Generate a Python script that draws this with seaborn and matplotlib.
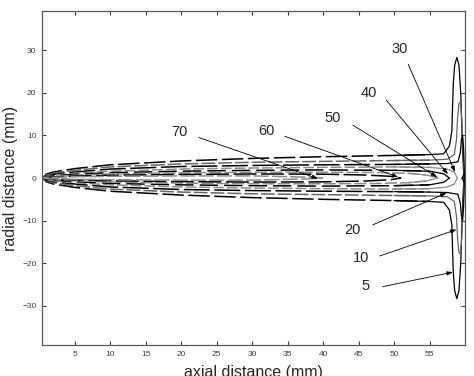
import numpy as np
import seaborn as sns
import matplotlib.pyplot as plt

# contour levels (labels) and upper-half paths (mm)
x_tip = [0.5, 1, 2, 5, 10, 20, 30, 40, 50]

lvl5_x = x_tip + [55, 57, 57.8, 58.15, 58.25, 58.35, 58.55, 58.85, 59.15, 59.4, 59.55, 59.7, 59.85]
lvl5_y = [0, 0.9, 1.4, 2.2, 3.1, 4.0, 4.6, 5.0, 5.3, 5.5, 5.7, 7.5, 11, 17, 22, 26.5, 28.3, 26.5, 20, 12, 5, 0]

lvl10_x = x_tip + [55, 57.5, 58.5, 58.8, 58.95, 59.15, 59.35, 59.55, 59.7, 59.8, 59.88]
lvl10_y = [0, 0.7, 1.1, 1.8, 2.6, 3.3, 3.7, 3.9, 4.1, 4.2, 4.4, 5.5, 9, 14, 17.5, 17.8, 14, 8, 4, 0]

lvl20_x = x_tip + [55, 57.5, 59.0, 59.35, 59.5, 59.65, 59.8, 59.88, 59.93]
lvl20_y = [0, 0.5, 0.85, 1.4, 2.1, 2.7, 2.95, 3.1, 3.2, 3.3, 3.4, 3.8, 6, 9, 10, 7, 3, 0]

lvl30_x = x_tip + [55, 57.5, 58.5, 58.9]
lvl30_y = [0, 0.4, 0.65, 1.1, 1.6, 2.1, 2.35, 2.5, 2.6, 2.5, 2.1, 1.4, 0]

lvl40_x = x_tip + [55, 57.0, 57.8]
lvl40_y = [0, 0.3, 0.5, 0.85, 1.25, 1.6, 1.8, 1.9, 1.8, 1.6, 1.0, 0]

lvl50_x = x_tip[:-1] + [47, 52, 54.5, 56.2]
lvl50_y = [0, 0.22, 0.38, 0.65, 0.95, 1.2, 1.35, 1.35, 1.3, 1.1, 0.7, 0]

lvl60_x = x_tip[:-1] + [46, 49.5, 51]
lvl60_y = [0, 0.15, 0.25, 0.45, 0.65, 0.85, 0.95, 0.9, 0.7, 0.4, 0]

lvl70_x = x_tip[:-2] + [34, 38, 40]
lvl70_y = [0, 0.1, 0.15, 0.3, 0.4, 0.5, 0.5, 0.35, 0.2, 0]

# small closed contour at the transducer face
edge_x = [59.6, 59.75, 59.9, 60.0]
edge_y = [0, 0.6, 1.0, 1.2]

paths = [(lvl5_x, lvl5_y, 'k'), (lvl10_x, lvl10_y, '0.4'), (lvl20_x, lvl20_y, 'k'),
         (lvl30_x, lvl30_y, '0.55'), (lvl40_x, lvl40_y, 'k'), (lvl50_x, lvl50_y, '0.55'),
         (lvl60_x, lvl60_y, 'k'), (lvl70_x, lvl70_y, '0.55'), (edge_x, edge_y, 'k')]

# staggered dash patterns so the aliased look of the original is kept
dash_styles = [(0, (14, 3)), (5, (9, 2)), (2, (17, 3)), (9, (7, 2)), (4, (12, 4)),
               (11, (8, 2)), (1, (15, 3)), (6, (10, 2)), (0, (10, 2))]

# labels: text position, arrow tail and arrow tip
labels = ['70', '60', '50', '40', '30', '20', '10', '5']
text_x = [19.8, 32.0, 41.4, 46.4, 50.8, 44.2, 45.4, 46.0]
text_y = [10.7, 11.0, 14.1, 20.0, 30.2, -12.3, -18.7, -25.4]
tail_x = [22.5, 34.6, 44.2, 48.9, 52.0, 47.0, 48.0, 48.4]
tail_y = [9.5, 9.8, 12.4, 18.3, 26.7, -11.0, -18.3, -25.5]
head_x = [39.3, 50.6, 56.1, 57.6, 58.6, 57.4, 58.8, 58.3]
head_y = [-0.15, 0.2, 0.2, 0.9, 1.4, -3.5, -12.1, -22.1]

SPLIT = 53  # tube part drawn dashed (as it renders in the original), tips/lobes solid

sns.set_style('ticks')
plt.rcParams['font.family'] = ['Liberation Sans', 'DejaVu Sans']

fig = plt.figure(figsize=(4.74, 3.76), dpi=100)
ax = fig.add_axes([0.0886, 0.0824, 0.8924, 0.8883])

for (px, py, col), ls in zip(paths, dash_styles):
    px = np.array(px)
    py = np.array(py)
    k = int((px <= SPLIT).sum())
    for n, sign in enumerate((1, -1)):
        lsn = (ls[0] + 5 * n, ls[1])
        if k > 1:
            sns.lineplot(x=px[:k + 1], y=sign * py[:k + 1], sort=False, estimator=None,
                         color=col, lw=1.1, ax=ax, linestyle=lsn)
        start = max(k - 1, 0) if k > 1 else 0
        if start < len(px) - 1:
            sns.lineplot(x=px[start:], y=sign * py[start:], sort=False, estimator=None,
                         color=col, lw=0.9, ax=ax)

for lab, tx, ty, ax0, ay0, hx, hy in zip(labels, text_x, text_y, tail_x, tail_y, head_x, head_y):
    ax.annotate('', xy=(hx, hy), xytext=(ax0, ay0),
                arrowprops=dict(arrowstyle='-|>,head_length=0.35,head_width=0.12', color='k', lw=0.6,
                                shrinkA=0, shrinkB=0))
    ax.text(tx, ty, lab, fontsize=10.5, ha='center', va='center')

ax.set_xlim(0.4, 60)
ax.set_ylim(-39.2, 39.2)
ax.set_xticks(np.arange(5, 60, 5))
ax.set_yticks(np.arange(-30, 31, 10))
ax.tick_params(direction='in', length=3, width=0.8, labelsize=6, colors='0.25',
               top=True, right=True, pad=4)
for s in ax.spines.values():
    s.set_color('0.35')
    s.set_linewidth(0.9)
ax.set_xlabel('axial distance (mm)', fontsize=11.5, labelpad=5)
ax.set_ylabel('radial distance (mm)', fontsize=11.5, labelpad=3)

fig.savefig('out.png', dpi=100)
